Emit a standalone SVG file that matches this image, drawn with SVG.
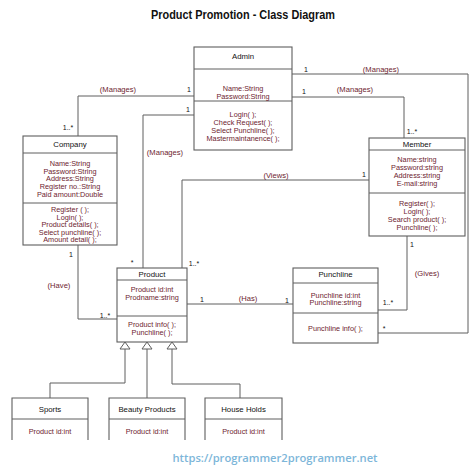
<svg xmlns="http://www.w3.org/2000/svg" width="474" height="467" viewBox="0 0 474 467">
<style>
.bx{fill:#fff;stroke:#5e5e5e;stroke-width:1.1}
.ln{fill:none;stroke:#5e5e5e;stroke-width:1}
.nm{font-family:"Liberation Sans",Arial,sans-serif;font-size:7.8px;fill:#111;text-anchor:middle;dominant-baseline:central}
.at{font-family:"Liberation Sans",Arial,sans-serif;font-size:7.3px;fill:#6e2430;text-anchor:middle;dominant-baseline:central}
.lb{font-family:"Liberation Sans",Arial,sans-serif;font-size:7.6px;fill:#6e2430;text-anchor:middle;dominant-baseline:central}
.mu{font-family:"Liberation Sans",Arial,sans-serif;font-size:7px;fill:#111;text-anchor:middle;dominant-baseline:central}
.tri{fill:#fff;stroke:#5e5e5e;stroke-width:1}
</style>
<rect width="474" height="467" fill="#fff"/>
<text x="243" y="14" font-family="Liberation Sans,Arial,sans-serif" font-weight="bold" font-size="13" fill="#111" text-anchor="middle" dominant-baseline="central" textLength="184" lengthAdjust="spacingAndGlyphs">Product Promotion - Class Diagram</text>

<g id="connectors">
<polyline class="ln" points="194,96 78,96 78,136"/>
<polyline class="ln" points="194,115 143,115 143,268"/>
<polyline class="ln" points="292,74 468,74 468,333 378,333"/>
<polyline class="ln" points="292,97 404,97 404,138"/>
<polyline class="ln" points="369,180 182,180 182,268"/>
<polyline class="ln" points="78,245 78,319 117,319"/>
<line class="ln" x1="187" y1="304" x2="293" y2="304"/>
<polyline class="ln" points="378,310 407,310 407,236"/>
<polyline class="ln" points="125,349 125,383 50,383 50,398"/>
<line class="ln" x1="147" y1="349" x2="147" y2="398"/>
<polyline class="ln" points="172,349 172,384 240,384 240,398"/>
<polygon class="tri" points="125,342 120,349 130,349"/>
<polygon class="tri" points="147,342 142,349 152,349"/>
<polygon class="tri" points="172,342 167,349 177,349"/>
<text class="lb" x="118" y="89">(Manages)</text>
<text class="mu" x="189" y="89">1</text>
<text class="mu" x="68" y="127">1..*</text>
<text class="mu" x="188" y="109">1</text>
<text class="lb" x="165" y="152">(Manages)</text>
<text class="mu" x="306" y="69">1</text>
<text class="lb" x="381" y="69">(Manages)</text>
<text class="mu" x="304" y="91">1</text>
<text class="lb" x="355" y="89">(Manages)</text>
<text class="mu" x="412" y="131">1..*</text>
<text class="lb" x="276" y="175">(Views)</text>
<text class="mu" x="364" y="174">1</text>
<text class="mu" x="132" y="262">*</text>
<text class="mu" x="194" y="263">1..*</text>
<text class="mu" x="71" y="254">1</text>
<text class="lb" x="59" y="285">(Have)</text>
<text class="mu" x="105" y="315">1..*</text>
<text class="mu" x="202" y="299">1</text>
<text class="lb" x="248" y="298">(Has)</text>
<text class="mu" x="287" y="300">1</text>
<text class="mu" x="388" y="302">1..*</text>
<text class="mu" x="384" y="328">*</text>
<text class="mu" x="412" y="244">1</text>
<text class="lb" x="427" y="273">(Gives)</text>
</g>

<g id="admin">
<rect class="bx" x="194" y="47" width="98" height="103"/>
<line class="ln" x1="194" y1="69" x2="292" y2="69"/>
<line class="ln" x1="194" y1="101" x2="292" y2="101"/>
<text class="nm" x="243" y="56">Admin</text>
<text class="at" x="243" y="88">Name:String</text>
<text class="at" x="243" y="96">Password:String</text>
<text class="at" x="243" y="114">Login( );</text>
<text class="at" x="243" y="122">Check Request( );</text>
<text class="at" x="243" y="130">Select Punchline( );</text>
<text class="at" x="243" y="138">Mastermaintanence( );</text>
</g>

<g id="company">
<rect class="bx" x="23" y="136" width="94" height="109"/>
<line class="ln" x1="23" y1="153" x2="117" y2="153"/>
<line class="ln" x1="23" y1="203" x2="117" y2="203"/>
<text class="nm" x="70" y="144">Company</text>
<text class="at" x="70" y="163">Name:String</text>
<text class="at" x="70" y="171">Password:String</text>
<text class="at" x="70" y="178.5">Address:String</text>
<text class="at" x="70" y="186">Register no.:String</text>
<text class="at" x="70" y="194">Paid amount:Double</text>
<text class="at" x="70" y="209">Register ( );</text>
<text class="at" x="70" y="217">Login( );</text>
<text class="at" x="70" y="224.5">Product details( );</text>
<text class="at" x="70" y="232">Select punchline( );</text>
<text class="at" x="70" y="239.5">Amount detail( );</text>
</g>

<g id="member">
<rect class="bx" x="369" y="138" width="96" height="98"/>
<line class="ln" x1="369" y1="150" x2="465" y2="150"/>
<line class="ln" x1="369" y1="193" x2="465" y2="193"/>
<text class="nm" x="417" y="144">Member</text>
<text class="at" x="417" y="159.5">Name:string</text>
<text class="at" x="417" y="167.5">Password:string</text>
<text class="at" x="417" y="175.5">Address:string</text>
<text class="at" x="417" y="183.5">E-mail:string</text>
<text class="at" x="417" y="203">Register( );</text>
<text class="at" x="417" y="211">Login( );</text>
<text class="at" x="417" y="219">Search product( );</text>
<text class="at" x="417" y="227">Punchline( );</text>
</g>

<g id="product">
<rect class="bx" x="117" y="268" width="70" height="74"/>
<line class="ln" x1="117" y1="280" x2="187" y2="280"/>
<line class="ln" x1="117" y1="316" x2="187" y2="316"/>
<text class="nm" x="152" y="274">Product</text>
<text class="at" x="152" y="289">Product id:int</text>
<text class="at" x="152" y="297">Prodname:string</text>
<text class="at" x="152" y="324.5">Product info( );</text>
<text class="at" x="152" y="332.5">Punchline( );</text>
</g>

<g id="punchline">
<rect class="bx" x="293" y="268" width="85" height="75"/>
<line class="ln" x1="293" y1="283" x2="378" y2="283"/>
<line class="ln" x1="293" y1="313" x2="378" y2="313"/>
<text class="nm" x="335.5" y="274.5">Punchline</text>
<text class="at" x="335.5" y="295">Punchline id:int</text>
<text class="at" x="335.5" y="302.5">Punchline:string</text>
<text class="at" x="335.5" y="328.5">Punchline info( );</text>
</g>

<g id="sports">
<polyline class="bx" points="12,440 12,398 88,398 88,440"/>
<line class="ln" x1="12" y1="419" x2="88" y2="419"/>
<text class="nm" x="50" y="409">Sports</text>
<text class="at" x="50" y="431">Product id:int</text>
</g>

<g id="beauty">
<polyline class="bx" points="109,440 109,398 185,398 185,440"/>
<line class="ln" x1="109" y1="419" x2="185" y2="419"/>
<text class="nm" x="147" y="409">Beauty Products</text>
<text class="at" x="147" y="431">Product id:int</text>
</g>

<g id="households">
<polyline class="bx" points="205,440 205,398 282,398 282,440"/>
<line class="ln" x1="205" y1="419" x2="282" y2="419"/>
<text class="nm" x="243.5" y="409">House Holds</text>
<text class="at" x="243.5" y="431">Product id:int</text>
</g>

<text x="275" y="457" font-family="Open Sans,Liberation Sans,sans-serif" font-weight="600" font-size="11.5" fill="#7db6d9" text-anchor="middle" dominant-baseline="central" textLength="205" lengthAdjust="spacingAndGlyphs">https://programmer2programmer.net</text>
</svg>
